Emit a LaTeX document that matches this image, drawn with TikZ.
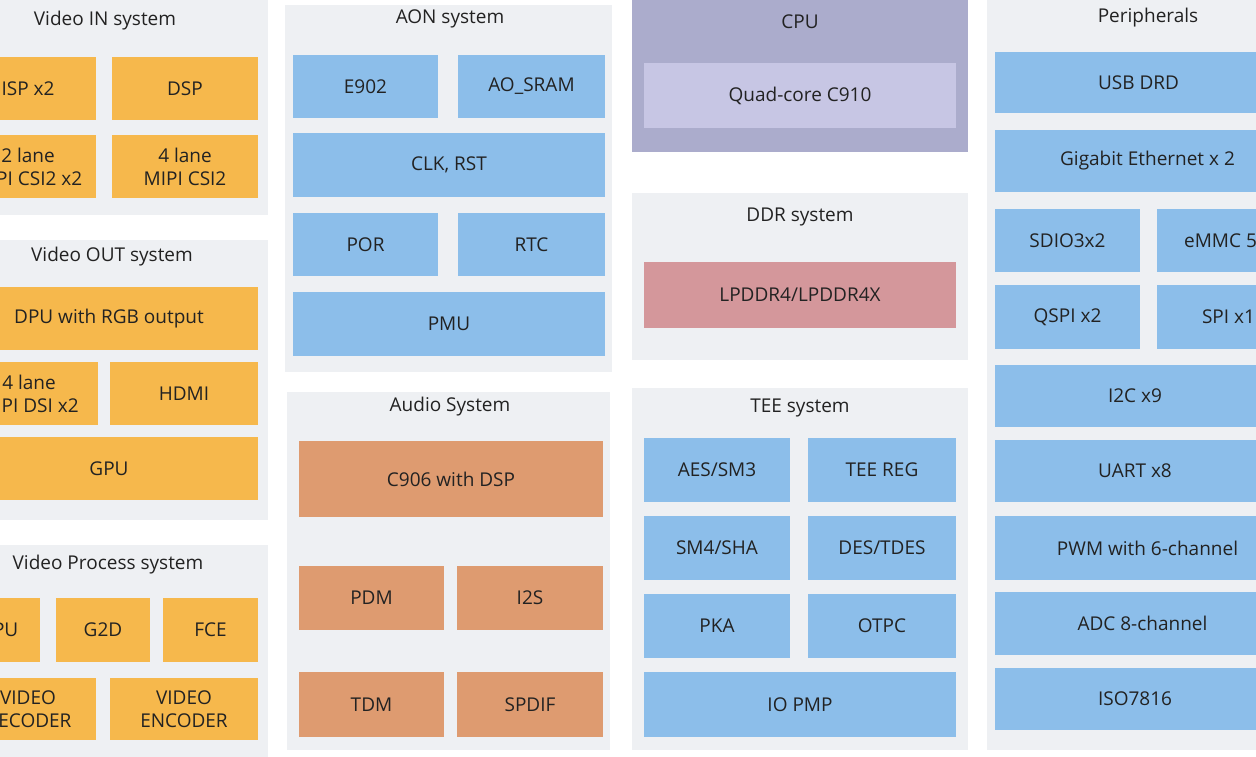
\documentclass[tikz,border=0pt]{standalone}
\usepackage{fontspec}
\setmainfont{Open Sans}
\definecolor{pan}{HTML}{EEF0F3}
\definecolor{org}{HTML}{F6B84C}
\definecolor{blu}{HTML}{8CBEEA}
\definecolor{sal}{HTML}{DE9B70}
\definecolor{cpup}{HTML}{ABACCC}
\definecolor{cpub}{HTML}{C7C6E4}
\definecolor{ddr}{HTML}{D4979B}
\definecolor{txt}{HTML}{222222}
\tikzset{
 bx/.style={inner sep=0pt,align=center,text=txt,font=\fontsize{19}{23}\selectfont},
 ttl/.style={inner sep=0pt,text=txt,font=\fontsize{19}{23}\selectfont}
}
\newcommand{\bx}[7]{\node[bx,fill=#6,minimum width={(#4-#2)*1pt},minimum height={(#5-#3)*1pt}] (#1) at ({(#2+#4)/2},{(#3+#5)/2}) {#7};}
\newcommand{\pn}[8]{\node[inner sep=0pt,fill=#6,minimum width={(#4-#2)*1pt},minimum height={(#5-#3)*1pt}] (#1) at ({(#2+#4)/2},{(#3+#5)/2}) {};
\node[ttl] (#1t) at #7 {#8};}
\begin{document}
\begin{tikzpicture}[x=1pt,y=-1pt]
\useasboundingbox (0,0) rectangle (1256,756);
\clip (0,0) rectangle (1256,756);
\fill[white] (0,0) rectangle (1256,756);
% column 1
\pn{vin}{-20}{0}{268}{215}{pan}{(105,21)}{Video IN system}
\bx{isp}{-40}{57}{96}{120}{org}{ISP x2}
\bx{dsp}{112}{57}{258}{120}{org}{DSP}
\bx{csia}{-40}{135}{96}{198}{org}{2 lane\\MIPI CSI2 x2}
\bx{csib}{112}{135}{258}{198}{org}{4 lane\\MIPI CSI2}
\pn{vout}{-20}{240}{268}{520}{pan}{(112,257)}{Video OUT system}
\bx{dpu}{-40}{287}{258}{350}{org}{DPU with RGB output}
\bx{dsi}{-40}{362}{98}{425}{org}{4 lane\\MIPI DSI x2}
\bx{hdmi}{110}{362}{258}{425}{org}{HDMI}
\bx{gpu}{-40}{437}{258}{500}{org}{GPU}
\pn{vp}{-20}{545}{268}{770}{pan}{(108,565)}{Video Process system}
\bx{vpu}{-40}{598}{40}{662}{org}{VPU}
\bx{g2d}{56}{598}{150}{662}{org}{G2D}
\bx{fce}{163}{598}{258}{662}{org}{FCE}
\bx{vdec}{-40}{678}{96}{740}{org}{VIDEO\\DECODER}
\bx{venc}{110}{678}{258}{740}{org}{VIDEO\\ENCODER}
% column 2
\pn{aon}{285}{5}{612}{372}{pan}{(450,19)}{AON system}
\bx{e902}{293}{55}{438}{118}{blu}{E902}
\bx{aos}{458}{55}{605}{118}{blu}{AO\_SRAM}
\bx{clk}{293}{133}{605}{197}{blu}{CLK, RST}
\bx{por}{293}{213}{438}{276}{blu}{POR}
\bx{rtc}{458}{213}{605}{276}{blu}{RTC}
\bx{pmu}{293}{292}{605}{356}{blu}{PMU}
\pn{aud}{287}{392}{610}{750}{pan}{(450,407)}{Audio System}
\bx{c906}{299}{441}{603}{517}{sal}{C906 with DSP}
\bx{pdm}{299}{566}{444}{630}{sal}{PDM}
\bx{i2s}{457}{566}{603}{630}{sal}{I2S}
\bx{tdm}{299}{672}{444}{737}{sal}{TDM}
\bx{spdif}{457}{672}{603}{737}{sal}{SPDIF}
% column 3
\pn{cpu}{632}{-10}{968}{152}{cpup}{(800,22)}{CPU}
\bx{c910}{644}{63}{956}{128}{cpub}{Quad-core C910}
\pn{ddrs}{632}{193}{968}{360}{pan}{(800,217)}{DDR system}
\bx{lp}{644}{262}{956}{328}{ddr}{LPDDR4/LPDDR4X}
\pn{tee}{632}{388}{968}{750}{pan}{(800,408)}{TEE system}
\bx{aes}{644}{438}{790}{502}{blu}{AES/SM3}
\bx{treg}{808}{438}{956}{502}{blu}{TEE REG}
\bx{sm4}{644}{516}{790}{580}{blu}{SM4/SHA}
\bx{des}{808}{516}{956}{580}{blu}{DES/TDES}
\bx{pka}{644}{594}{790}{658}{blu}{PKA}
\bx{otpc}{808}{594}{956}{658}{blu}{OTPC}
\bx{iop}{644}{672}{956}{737}{blu}{IO PMP}
% column 4
\pn{per}{987}{0}{1300}{750}{pan}{(1148,18)}{Peripherals}
\bx{usb}{995}{52}{1282}{113}{blu}{USB DRD}
\bx{eth}{995}{130}{1300}{192}{blu}{Gigabit Ethernet x 2}
\bx{sdio}{995}{209}{1140}{272}{blu}{SDIO3x2}
\bx{emmc}{1157}{209}{1300}{272}{blu}{eMMC 5.1}
\bx{qspi}{995}{285}{1140}{349}{blu}{QSPI x2}
\bx{spi}{1157}{285}{1300}{349}{blu}{SPI x1}
\bx{i2c}{995}{365}{1275}{427}{blu}{I2C x9}
\bx{uart}{995}{440}{1275}{502}{blu}{UART x8}
\bx{pwm}{995}{516}{1300}{580}{blu}{PWM with 6-channel}
\bx{adc}{995}{592}{1290}{655}{blu}{ADC 8-channel}
\bx{iso}{995}{668}{1275}{730}{blu}{ISO7816}
\end{tikzpicture}
\end{document}
